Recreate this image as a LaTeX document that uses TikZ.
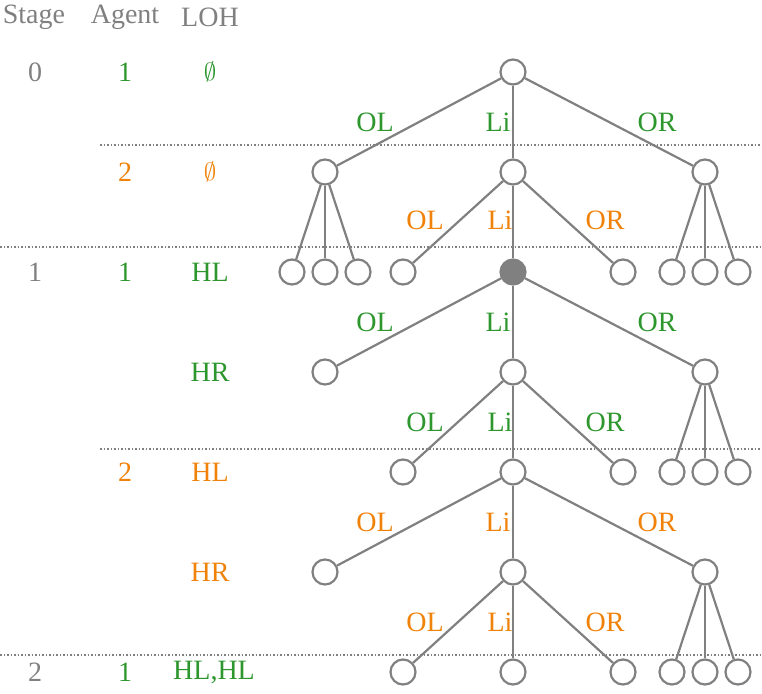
\documentclass[tikz,border=0pt]{standalone}
\usepackage{fontspec}
\setmainfont{Liberation Serif}
\definecolor{gr}{RGB}{45,150,45}
\definecolor{og}{RGB}{240,130,10}
\definecolor{gy}{RGB}{128,128,128}
\begin{document}
\begin{tikzpicture}[x=1pt,y=-1pt,
  st/.style={circle,draw=gy,line width=2.2pt,fill=white,minimum size=25pt,inner sep=0pt},
  fst/.style={st,fill=gy},
  ed/.style={draw=gy,line width=2.2pt},
  sep/.style={draw=gy,line width=1.5pt,dotted},
  tx/.style={font=\fontsize{28}{32}\selectfont,inner sep=0pt},
  G/.style={tx,text=gr},O/.style={tx,text=og},Y/.style={tx,text=gy}]
\useasboundingbox (0,0) rectangle (762,693);
% separators
\draw[sep] (100,145) -- (762,145);
\draw[sep] (0,247) -- (762,247);
\draw[sep] (100,449) -- (762,449);
\draw[sep] (0,655) -- (762,655);
% nodes
\node[st] (r) at (513,72) {};
\node[st] (a1) at (325,172) {};
\node[st] (a2) at (513,172) {};
\node[st] (a3) at (705,172) {};
\foreach \x/\n in {292/b1,325/b2,358/b3,403/b4,623/b6,672/b7,705/b8,738/b9} \node[st] (\n) at (\x,272) {};
\node[fst] (b5) at (513,272) {};
\node[st] (c1) at (325,372) {};
\node[st] (c2) at (513,372) {};
\node[st] (c3) at (705,372) {};
\foreach \x/\n in {403/d1,513/d2,623/d3,672/d4,705/d5,738/d6} \node[st] (\n) at (\x,472) {};
\node[st] (e1) at (325,572) {};
\node[st] (e2) at (513,572) {};
\node[st] (e3) at (705,572) {};
\foreach \x/\n in {403/f1,513/f2,623/f3,672/f4,705/f5,738/f6} \node[st] (\n) at (\x,672) {};
% edges
\foreach \p/\c in {r/a1,r/a2,r/a3,a1/b1,a1/b2,a1/b3,a2/b4,a2/b5,a2/b6,a3/b7,a3/b8,a3/b9,
  b5/c1,b5/c2,b5/c3,c2/d1,c2/d2,c2/d3,c3/d4,c3/d5,c3/d6,
  d2/e1,d2/e2,d2/e3,e2/f1,e2/f2,e2/f3,e3/f4,e3/f5,e3/f6}
  \draw[ed] (\p) -- (\c);
% edge labels
\node[G] (l1) at (375,122) {OL}; \node[G] (l2) at (498,122) {Li}; \node[G] (l3) at (657,122) {OR};
\node[O] (l4) at (425,220) {OL}; \node[O] (l5) at (500,220) {Li}; \node[O] (l6) at (605,220) {OR};
\node[G] (l7) at (375,322) {OL}; \node[G] (l8) at (498,322) {Li}; \node[G] (l9) at (657,322) {OR};
\node[G] (m1) at (425,422) {OL}; \node[G] (m2) at (500,422) {Li}; \node[G] (m3) at (605,422) {OR};
\node[O] (m4) at (375,522) {OL}; \node[O] (m5) at (498,522) {Li}; \node[O] (m6) at (657,522) {OR};
\node[O] (m7) at (425,622) {OL}; \node[O] (m8) at (500,622) {Li}; \node[O] (m9) at (605,622) {OR};
% table
\node[Y] (h1) at (34,17) {Stage}; \node[Y] (h2) at (125,17) {Agent}; \node[Y] (h3) at (210,17) {LOH};
\node[Y] (s0) at (35,72) {0}; \node[G] (g0) at (125,72) {1}; \node[G] (o0) at (210,72) {$\emptyset$};
\node[O] (g1) at (125,172) {2}; \node[O] (o1) at (210,172) {$\emptyset$};
\node[Y] (s1) at (35,272) {1}; \node[G] (g2) at (125,272) {1}; \node[G] (o2) at (210,272) {HL};
\node[G] (o3) at (210,372) {HR};
\node[O] (g4) at (125,472) {2}; \node[O] (o4) at (210,472) {HL};
\node[O] (o5) at (210,572) {HR};
\node[Y] (s2) at (35,672) {2}; \node[G] (g6) at (125,672) {1}; \node[G] (o6) at (214,672) {HL,HL};
\end{tikzpicture}
\end{document}
